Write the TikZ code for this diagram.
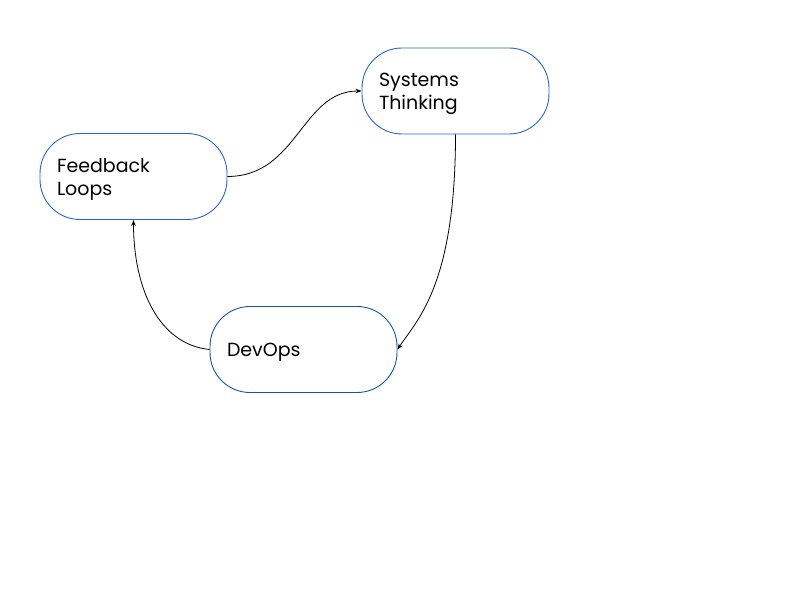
\documentclass[tikz,border=0pt]{standalone}
\usepackage{fontspec}
\setmainfont{Poppins}
\usetikzlibrary{arrows.meta}
\definecolor{nodeblue}{RGB}{40,100,210}
\definecolor{nodedark}{RGB}{25,85,155}
\newcommand{\lowln}[1]{\raisebox{-3pt}[\height][\depth]{#1}}
\begin{document}
\begin{tikzpicture}[x=1pt,y=1pt,
  box/.style={draw=nodeblue,line width=0.9pt,rounded corners=40pt,minimum width=187pt,minimum height=86pt,
    text width=153pt,align=left,inner sep=0pt,font=\fontsize{19pt}{23pt}\selectfont},
  conn/.style={line width=0.8pt,-{Stealth[length=6pt,width=4.5pt]}}]
\useasboundingbox (0,0) rectangle (800,600);
\node[box] (st) at (455.5,509) {\lowln{Systems}\\\lowln{Thinking}};
\node[box] (fl) at (133.5,423.5) {\lowln{Feedback}\\\lowln{Loops}};
\node[box,draw=nodedark] (do) at (303.5,250.5) {\lowln{DevOps}};
\draw[conn] (fl.east) .. controls +(70,0) and +(-60,0) .. (st.west);
\draw[conn] (st.south) .. controls +(0,-150) and +(20,30) .. (do.east);
\draw[conn] (do.west) .. controls +(-50,5) and +(0,-70) .. (fl.south);
\end{tikzpicture}
\end{document}
